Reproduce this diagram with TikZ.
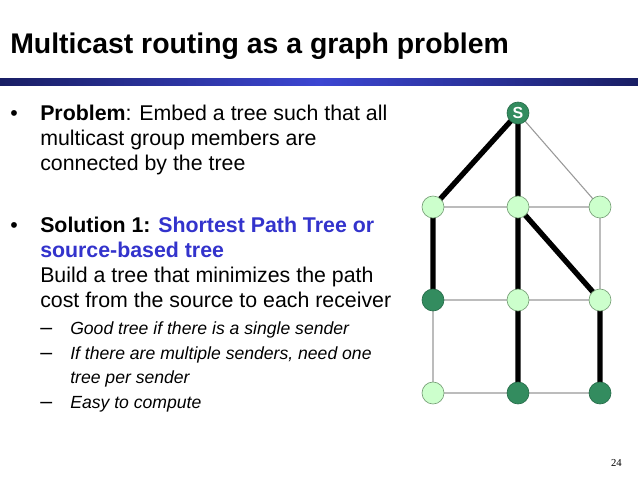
\documentclass[tikz,border=0pt]{standalone}
\usepackage{fontspec}
\setmainfont{Liberation Sans}
\newfontfamily\serifpg{Liberation Serif}
\begin{document}
\begin{tikzpicture}[x=0.75pt,y=-0.75pt,
  lt/.style={draw=white!60!black,line width=0.8pt},
  tk/.style={line width=4pt,black},
  dk/.style={circle,draw={rgb,255:red,40;green,110;blue,75},line width=0.5pt,minimum size=16.5pt,inner sep=0pt,fill={rgb,255:red,51;green,140;blue,95}},
  lg/.style={circle,draw={rgb,255:red,120;green,160;blue,120},line width=0.5pt,fill={rgb,255:red,204;green,255;blue,204},minimum size=16.5pt,inner sep=0pt},
  body/.style={anchor=base west,inner sep=0pt,font=\fontsize{16pt}{18pt}\selectfont},
  sub/.style={anchor=base west,inner sep=0pt,font=\fontsize{13.2pt}{15pt}\selectfont\itshape}]
\useasboundingbox (0,0) rectangle (638,478);
\fill[white] (0,0) rectangle (638,478);
\node[anchor=base west,inner sep=0pt,font=\fontsize{21.3pt}{24pt}\selectfont\bfseries] (title) at (10,54) {Multicast routing as a graph problem};
\shade[left color={rgb,255:red,25;green,30;blue,100},right color={rgb,255:red,60;green,70;blue,210}] (0,78) rectangle (319,85);
\shade[left color={rgb,255:red,60;green,70;blue,210},right color={rgb,255:red,25;green,30;blue,100}] (319,78) rectangle (638,85);
% text
\node[body] (b1) at (10,120) {•};
\node[body] (t1) at (40,120) {\textbf{Problem}: Embed a tree such that all};
\node[body] (t2) at (40,145) {multicast group members are};
\node[body] (t3) at (40,170) {connected by the tree};
\node[body] (b2) at (10,232) {•};
\node[body] (t4) at (40,232) {\textbf{Solution 1: \color[rgb]{0.2,0.2,0.8}Shortest Path Tree or}};
\node[body] (t5) at (40,257) {\textbf{\color[rgb]{0.2,0.2,0.8}source-based tree}};
\node[body] (t6) at (40,282) {Build a tree that minimizes the path};
\node[body] (t7) at (40,307) {cost from the source to each receiver};
\node[body] (d1) at (40,334) {–};
\node[sub] (s1) at (70,334) {Good tree if there is a single sender};
\node[body] (d2) at (40,359) {–};
\node[sub] (s2) at (70,359) {If there are multiple senders, need one};
\node[sub] (s3) at (70,383) {tree per sender};
\node[body] (d3) at (40,408) {–};
\node[sub] (s4) at (70,408) {Easy to compute};
\node[anchor=base east,inner sep=0pt,font=\fontsize{8pt}{9pt}\selectfont\serifpg] (pg) at (622,466) {24};
% graph
\coordinate (S) at (518,113);
\coordinate (a1) at (433,207); \coordinate (a2) at (518,207); \coordinate (a3) at (600,207);
\coordinate (b1c) at (433,300); \coordinate (b2c) at (518,300); \coordinate (b3c) at (600,300);
\coordinate (c1) at (433,393); \coordinate (c2) at (518,393); \coordinate (c3) at (600,393);
\draw[lt] (S)--(a3) (a1)--(a3) (b1c)--(b3c) (c1)--(c3) (a3)--(b3c) (b1c)--(c1);
\draw[tk] (S)--(a1) (S)--(a2) (a1)--(b1c) (a2)--(b2c) (a2)--(b3c) (b2c)--(c2) (b3c)--(c3);
\node[dk,font=\bfseries\fontsize{12pt}{12pt}\selectfont,text=white] (nS) at (S) {S};
\node[lg] (n1) at (a1) {}; \node[lg] (n2) at (a2) {}; \node[lg] (n3) at (a3) {};
\node[dk] (n4) at (b1c) {}; \node[lg] (n5) at (b2c) {}; \node[lg] (n6) at (b3c) {};
\node[lg] (n7) at (c1) {}; \node[dk] (n8) at (c2) {}; \node[dk] (n9) at (c3) {};
\end{tikzpicture}
\end{document}
